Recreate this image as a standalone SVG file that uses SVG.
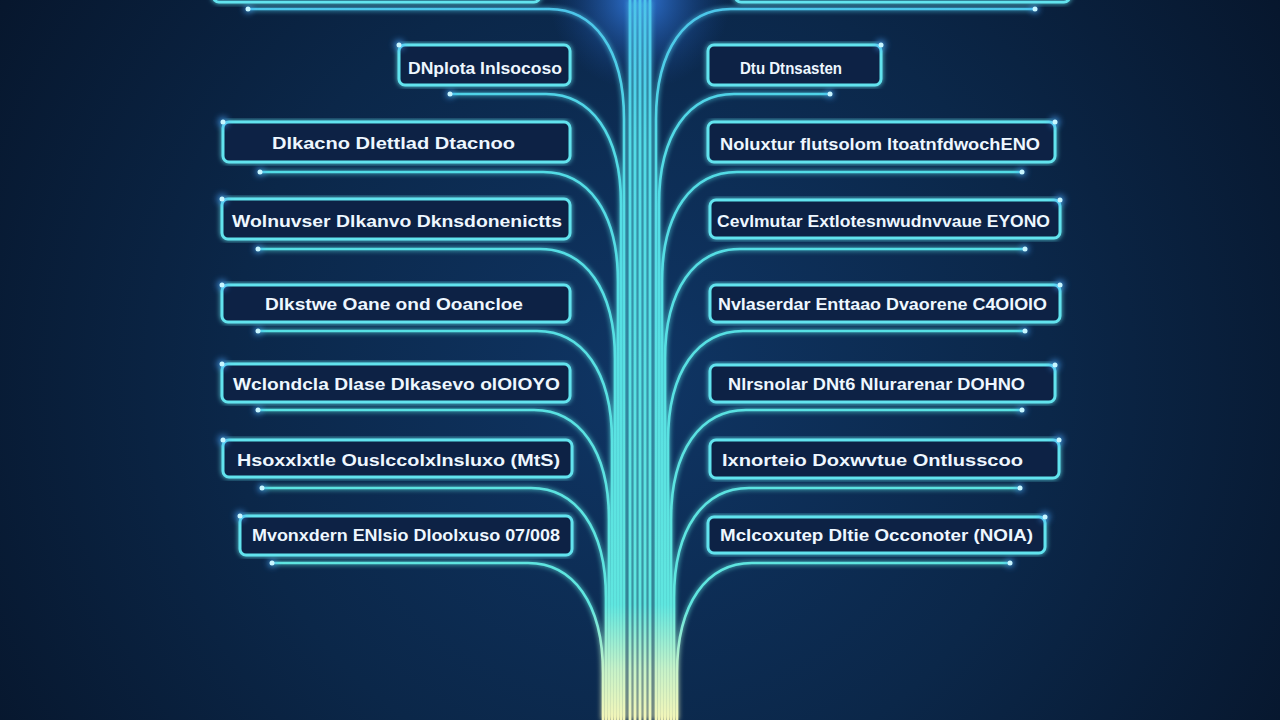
<svg xmlns="http://www.w3.org/2000/svg" width="1280" height="720" viewBox="0 0 1280 720">
<defs>
<radialGradient id="bg" cx="640" cy="380" r="820" gradientUnits="userSpaceOnUse">
<stop offset="0" stop-color="#0f3564"/>
<stop offset="0.5" stop-color="#0b2749"/>
<stop offset="1" stop-color="#061327"/>
</radialGradient>
<radialGradient id="topglow" cx="640" cy="0" r="90" gradientUnits="userSpaceOnUse">
<stop offset="0" stop-color="#3a8cff" stop-opacity="0.8"/>
<stop offset="1" stop-color="#1a4a9a" stop-opacity="0"/>
</radialGradient>
<linearGradient id="wire" x1="0" y1="0" x2="0" y2="720" gradientUnits="userSpaceOnUse">
<stop offset="0" stop-color="#4cc4ea"/>
<stop offset="0.2" stop-color="#52dbe6"/>
<stop offset="0.84" stop-color="#5fe6df"/>
<stop offset="0.93" stop-color="#c6f2c8"/>
<stop offset="1" stop-color="#f4f6b8"/>
</linearGradient>
<filter id="glow" x="-10%" y="-10%" width="120%" height="120%">
<feGaussianBlur in="SourceGraphic" stdDeviation="2.5" result="b"/>
<feMerge><feMergeNode in="b"/><feMergeNode in="SourceGraphic"/></feMerge>
</filter>
<filter id="halo" x="-300%" y="-300%" width="700%" height="700%">
<feGaussianBlur in="SourceGraphic" stdDeviation="3"/>
</filter>
<style>
.box{fill:#0a2245;stroke:#62e3ee;stroke-width:3}
.lbl{font-family:"Liberation Sans",Arial,sans-serif;font-weight:bold;font-size:16px;fill:#eef7ff;dominant-baseline:central}
.wire{fill:none;stroke:url(#wire);stroke-width:2.6}
.core{fill:none;stroke:url(#wire);stroke-width:2.8}
.dot{fill:#c8f6ff}
.halo{fill:#4aa8ff;opacity:0.7}
</style>
</defs>

<rect x="0" y="0" width="1280" height="720" fill="url(#bg)"/>
<rect x="540" y="0" width="200" height="100" fill="url(#topglow)"/>

<g id="connectors" filter="url(#glow)">
<path class="wire" d="M248 9 H549 C594 9 624 49 624 119 V720"/>
<path class="wire" d="M450 94 H546 C591 94 621 134 621 204 V720"/>
<path class="wire" d="M260 172 H543 C588 172 618 212 618 282 V720"/>
<path class="wire" d="M258 249 H540 C585 249 615 289 615 359 V720"/>
<path class="wire" d="M258 331 H537 C582 331 612 371 612 441 V720"/>
<path class="wire" d="M258 410 H534 C579 410 609 450 609 520 V720"/>
<path class="wire" d="M262 488 H531 C576 488 606 528 606 598 V720"/>
<path class="wire" d="M272 563 H528 C573 563 603 603 603 673 V720"/>

<path class="wire" d="M1035 9 H731 C686 9 656 49 656 119 V720"/>
<path class="wire" d="M830 94 H734 C689 94 659 134 659 204 V720"/>
<path class="wire" d="M1022 172 H737 C692 172 662 212 662 282 V720"/>
<path class="wire" d="M1025 249 H740 C695 249 665 289 665 359 V720"/>
<path class="wire" d="M1025 331 H743 C698 331 668 371 668 441 V720"/>
<path class="wire" d="M1022 410 H746 C701 410 671 450 671 520 V720"/>
<path class="wire" d="M1020 488 H749 C704 488 674 528 674 598 V720"/>
<path class="wire" d="M1010 563 H752 C707 563 677 603 677 673 V720"/>

<path class="core" d="M630 0 V720"/>
<path class="core" d="M635 0 V720"/>
<path class="core" d="M640 0 V720"/>
<path class="core" d="M645 0 V720"/>
<path class="core" d="M650 0 V720"/>
</g>

<g id="wire-ends">
<circle class="halo" cx="248" cy="9" r="4" filter="url(#halo)"/><circle class="dot" cx="248" cy="9" r="2.5"/>
<circle class="halo" cx="450" cy="94" r="4" filter="url(#halo)"/><circle class="dot" cx="450" cy="94" r="2.5"/>
<circle class="halo" cx="260" cy="172" r="4" filter="url(#halo)"/><circle class="dot" cx="260" cy="172" r="2.5"/>
<circle class="halo" cx="258" cy="249" r="4" filter="url(#halo)"/><circle class="dot" cx="258" cy="249" r="2.5"/>
<circle class="halo" cx="258" cy="331" r="4" filter="url(#halo)"/><circle class="dot" cx="258" cy="331" r="2.5"/>
<circle class="halo" cx="258" cy="410" r="4" filter="url(#halo)"/><circle class="dot" cx="258" cy="410" r="2.5"/>
<circle class="halo" cx="262" cy="488" r="4" filter="url(#halo)"/><circle class="dot" cx="262" cy="488" r="2.5"/>
<circle class="halo" cx="272" cy="563" r="4" filter="url(#halo)"/><circle class="dot" cx="272" cy="563" r="2.5"/>
<circle class="halo" cx="1035" cy="9" r="4" filter="url(#halo)"/><circle class="dot" cx="1035" cy="9" r="2.5"/>
<circle class="halo" cx="830" cy="94" r="4" filter="url(#halo)"/><circle class="dot" cx="830" cy="94" r="2.5"/>
<circle class="halo" cx="1022" cy="172" r="4" filter="url(#halo)"/><circle class="dot" cx="1022" cy="172" r="2.5"/>
<circle class="halo" cx="1025" cy="249" r="4" filter="url(#halo)"/><circle class="dot" cx="1025" cy="249" r="2.5"/>
<circle class="halo" cx="1025" cy="331" r="4" filter="url(#halo)"/><circle class="dot" cx="1025" cy="331" r="2.5"/>
<circle class="halo" cx="1022" cy="410" r="4" filter="url(#halo)"/><circle class="dot" cx="1022" cy="410" r="2.5"/>
<circle class="halo" cx="1020" cy="488" r="4" filter="url(#halo)"/><circle class="dot" cx="1020" cy="488" r="2.5"/>
<circle class="halo" cx="1010" cy="563" r="4" filter="url(#halo)"/><circle class="dot" cx="1010" cy="563" r="2.5"/>
</g>

<g id="node-top-left" filter="url(#glow)">
<rect class="box" x="213" y="-40" width="327" height="42" rx="6"/>
</g>
<g id="node-top-right" filter="url(#glow)">
<rect class="box" x="735" y="-40" width="335" height="42" rx="6"/>
</g>

<g id="node-L1">
<rect class="box" x="399" y="45" width="171" height="40" rx="6" filter="url(#glow)"/>
<circle class="halo" cx="399" cy="45" r="5" filter="url(#halo)"/><circle class="dot" cx="399" cy="45" r="2.5"/>
<text class="lbl" x="408" y="68" textLength="154" lengthAdjust="spacingAndGlyphs">DNplota Inlsocoso</text>
</g>
<g id="node-L2">
<rect class="box" x="223" y="122" width="347" height="40" rx="6" filter="url(#glow)"/>
<circle class="halo" cx="223" cy="122" r="5" filter="url(#halo)"/><circle class="dot" cx="223" cy="122" r="2.5"/>
<text class="lbl" x="272" y="143" textLength="243" lengthAdjust="spacingAndGlyphs">Dlkacno Dlettlad Dtacnoo</text>
</g>
<g id="node-L3">
<rect class="box" x="222" y="199" width="348" height="40" rx="6" filter="url(#glow)"/>
<circle class="halo" cx="222" cy="199" r="5" filter="url(#halo)"/><circle class="dot" cx="222" cy="199" r="2.5"/>
<text class="lbl" x="232" y="221" textLength="330" lengthAdjust="spacingAndGlyphs">Wolnuvser Dlkanvo Dknsdonenictts</text>
</g>
<g id="node-L4">
<rect class="box" x="222" y="285" width="348" height="37" rx="6" filter="url(#glow)"/>
<circle class="halo" cx="222" cy="285" r="5" filter="url(#halo)"/><circle class="dot" cx="222" cy="285" r="2.5"/>
<text class="lbl" x="265" y="304" textLength="258" lengthAdjust="spacingAndGlyphs">Dlkstwe Oane ond Ooancloe</text>
</g>
<g id="node-L5">
<rect class="box" x="222" y="364" width="348" height="38" rx="6" filter="url(#glow)"/>
<circle class="halo" cx="222" cy="364" r="5" filter="url(#halo)"/><circle class="dot" cx="222" cy="364" r="2.5"/>
<text class="lbl" x="233" y="384" textLength="327" lengthAdjust="spacingAndGlyphs">Wclondcla Dlase Dlkasevo olOlOYO</text>
</g>
<g id="node-L6">
<rect class="box" x="223" y="440" width="349" height="37" rx="6" filter="url(#glow)"/>
<circle class="halo" cx="223" cy="440" r="5" filter="url(#halo)"/><circle class="dot" cx="223" cy="440" r="2.5"/>
<text class="lbl" x="237" y="460" textLength="323" lengthAdjust="spacingAndGlyphs">Hsoxxlxtle Ouslccolxlnsluxo (MtS)</text>
</g>
<g id="node-L7">
<rect class="box" x="240" y="516" width="332" height="39" rx="6" filter="url(#glow)"/>
<circle class="halo" cx="240" cy="516" r="5" filter="url(#halo)"/><circle class="dot" cx="240" cy="516" r="2.5"/>
<text class="lbl" x="252" y="535" textLength="308" lengthAdjust="spacingAndGlyphs">Mvonxdern ENlsio Dloolxuso 07/008</text>
</g>

<g id="node-R1">
<rect class="box" x="708" y="45" width="173" height="40" rx="6" filter="url(#glow)"/>
<circle class="halo" cx="881" cy="45" r="5" filter="url(#halo)"/><circle class="dot" cx="881" cy="45" r="2.5"/>
<text class="lbl" x="740" y="68" textLength="102" lengthAdjust="spacingAndGlyphs">Dtu Dtnsasten</text>
</g>
<g id="node-R2">
<rect class="box" x="708" y="122" width="347" height="40" rx="6" filter="url(#glow)"/>
<circle class="halo" cx="1055" cy="122" r="5" filter="url(#halo)"/><circle class="dot" cx="1055" cy="122" r="2.5"/>
<text class="lbl" x="720" y="144" textLength="320" lengthAdjust="spacingAndGlyphs">Noluxtur flutsolom ltoatnfdwochENO</text>
</g>
<g id="node-R3">
<rect class="box" x="710" y="200" width="350" height="38" rx="6" filter="url(#glow)"/>
<circle class="halo" cx="1060" cy="200" r="5" filter="url(#halo)"/><circle class="dot" cx="1060" cy="200" r="2.5"/>
<text class="lbl" x="717" y="221" textLength="333" lengthAdjust="spacingAndGlyphs">Cevlmutar Extlotesnwudnvvaue EYONO</text>
</g>
<g id="node-R4">
<rect class="box" x="710" y="285" width="350" height="37" rx="6" filter="url(#glow)"/>
<circle class="halo" cx="1060" cy="285" r="5" filter="url(#halo)"/><circle class="dot" cx="1060" cy="285" r="2.5"/>
<text class="lbl" x="718" y="304" textLength="329" lengthAdjust="spacingAndGlyphs">Nvlaserdar Enttaao Dvaorene C4OlOlO</text>
</g>
<g id="node-R5">
<rect class="box" x="710" y="365" width="345" height="37" rx="6" filter="url(#glow)"/>
<circle class="halo" cx="1055" cy="365" r="5" filter="url(#halo)"/><circle class="dot" cx="1055" cy="365" r="2.5"/>
<text class="lbl" x="728" y="384" textLength="297" lengthAdjust="spacingAndGlyphs">Nlrsnolar DNt6 Nlurarenar DOHNO</text>
</g>
<g id="node-R6">
<rect class="box" x="710" y="440" width="349" height="38" rx="6" filter="url(#glow)"/>
<circle class="halo" cx="1059" cy="440" r="5" filter="url(#halo)"/><circle class="dot" cx="1059" cy="440" r="2.5"/>
<text class="lbl" x="722" y="460" textLength="301" lengthAdjust="spacingAndGlyphs">Ixnorteio Doxwvtue Ontlusscoo</text>
</g>
<g id="node-R7">
<rect class="box" x="708" y="517" width="337" height="36" rx="6" filter="url(#glow)"/>
<circle class="halo" cx="1045" cy="517" r="5" filter="url(#halo)"/><circle class="dot" cx="1045" cy="517" r="2.5"/>
<text class="lbl" x="720" y="535" textLength="313" lengthAdjust="spacingAndGlyphs">Mclcoxutep Dltie Occonoter (NOIA)</text>
</g>
</svg>
